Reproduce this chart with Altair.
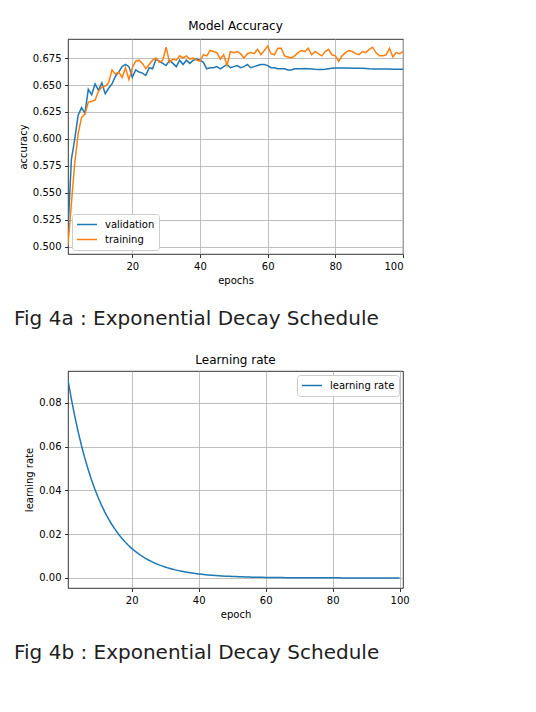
import altair as alt
import pandas as pd

epochs = list(range(1, 101))

val_acc = [
    0.515, 0.581, 0.600, 0.622, 0.629, 0.624, 0.646, 0.641, 0.651, 0.645,
    0.652, 0.642, 0.647, 0.651, 0.658, 0.662, 0.667, 0.669, 0.667, 0.657,
    0.664, 0.662, 0.661, 0.659, 0.666, 0.665, 0.674, 0.672, 0.670, 0.668,
    0.673, 0.670, 0.667, 0.673, 0.669, 0.673, 0.670, 0.673, 0.674, 0.673,
    0.671, 0.665, 0.666, 0.666, 0.667, 0.665, 0.667, 0.669, 0.666, 0.667,
    0.668, 0.666, 0.667, 0.669, 0.666, 0.667, 0.668, 0.669, 0.669, 0.668,
    0.666, 0.666, 0.665, 0.665, 0.665, 0.664, 0.664, 0.665, 0.665, 0.665,
    0.6652, 0.665, 0.6648, 0.6645, 0.6643, 0.6643, 0.6645, 0.665, 0.6655, 0.6657,
    0.6657, 0.6657, 0.6657, 0.6657, 0.6656, 0.6655, 0.6655, 0.6654, 0.6652, 0.665,
    0.6649, 0.6648, 0.6648, 0.6648, 0.6648, 0.6648, 0.6647, 0.6647, 0.6646, 0.6646,
]

train_acc = [
    0.502, 0.540, 0.578, 0.605, 0.620, 0.623, 0.634, 0.635, 0.636, 0.644,
    0.648, 0.649, 0.652, 0.664, 0.660, 0.662, 0.657, 0.666, 0.655, 0.666,
    0.672, 0.673, 0.670, 0.665, 0.669, 0.673, 0.675, 0.671, 0.673, 0.685,
    0.671, 0.674, 0.673, 0.677, 0.675, 0.677, 0.674, 0.675, 0.673, 0.672,
    0.678, 0.677, 0.682, 0.681, 0.680, 0.674, 0.678, 0.668, 0.681, 0.680,
    0.681, 0.679, 0.675, 0.679, 0.680, 0.679, 0.683, 0.678, 0.682, 0.686,
    0.679, 0.678, 0.684, 0.684, 0.677, 0.676, 0.675, 0.677, 0.680, 0.682,
    0.681, 0.684, 0.678, 0.681, 0.679, 0.677, 0.681, 0.683, 0.678, 0.677,
    0.672, 0.677, 0.680, 0.682, 0.681, 0.679, 0.678, 0.681, 0.680, 0.683,
    0.685, 0.680, 0.677, 0.677, 0.678, 0.684, 0.676, 0.680, 0.679, 0.681,
]

lr = [
    0.09048, 0.08187, 0.07408, 0.06703, 0.06065, 0.05488, 0.04966, 0.04493, 0.04066, 0.03679,
    0.03329, 0.03012, 0.02725, 0.02466, 0.02231, 0.02019, 0.01827, 0.01653, 0.01496, 0.01353,
    0.01225, 0.01108, 0.01003, 0.00907, 0.00821, 0.00743, 0.00672, 0.00608, 0.00550, 0.00498,
    0.00450, 0.00408, 0.00369, 0.00334, 0.00302, 0.00273, 0.00247, 0.00224, 0.00202, 0.00183,
    0.00166, 0.00150, 0.00136, 0.00123, 0.00111, 0.00101, 0.00091, 0.00082, 0.00075, 0.00067,
    0.00061, 0.00055, 0.00050, 0.00045, 0.00041, 0.00037, 0.00034, 0.00030, 0.00027, 0.00025,
    0.00022, 0.00020, 0.00018, 0.00017, 0.00015, 0.00014, 0.00012, 0.00011, 0.00010, 0.00009,
    0.00008, 0.00007, 0.00007, 0.00006, 0.00006, 0.00005, 0.00005, 0.00004, 0.00004, 0.00003,
    0.00003, 0.00003, 0.00002, 0.00002, 0.00002, 0.00002, 0.00002, 0.00001, 0.00001, 0.00001,
    0.00001, 0.00001, 0.00001, 0.00001, 0.00001, 0.00001, 0.00001, 0.0, 0.0, 0.0,
]

series_names = ['validation', 'training']
series_colors = ['#1f77b4', '#ff7f0e']
x_ticks = [20, 40, 60, 80, 100]
acc_ticks = [0.500, 0.525, 0.550, 0.575, 0.600, 0.625, 0.650, 0.675]
lr_ticks = [0.00, 0.02, 0.04, 0.06, 0.08]
caption_a = 'Fig 4a : Exponential Decay Schedule'
caption_b = 'Fig 4b : Exponential Decay Schedule'

acc_df = pd.DataFrame({
    'epoch': epochs + epochs,
    'accuracy': val_acc + train_acc,
    'series': ['validation'] * len(val_acc) + ['training'] * len(train_acc),
})
lr_df = pd.DataFrame({'epoch': epochs, 'lr': lr, 'series': 'learning rate'})

# matplotlib-ish legend box
legend_style = dict(
    symbolType='stroke', symbolSize=400, symbolStrokeWidth=1.5, clipHeight=13,
    labelFontSize=10, labelFont='DejaVu Sans', labelColor='black', labelOffset=7,
    fillColor='white', strokeColor='#cccccc', cornerRadius=3, padding=4,
    rowPadding=2, offset=4,
)

acc_lines = alt.Chart(acc_df).mark_line(strokeWidth=1.5, clip=True).encode(
    x=alt.X('epoch:Q', scale=alt.Scale(domain=[1, 100], nice=False, zero=False),
            axis=alt.Axis(values=x_ticks, title='epochs')),
    y=alt.Y('accuracy:Q', scale=alt.Scale(domain=[0.4935, 0.6926], nice=False, zero=False),
            axis=alt.Axis(values=acc_ticks, format='.3f', title='accuracy')),
    color=alt.Color('series:N', sort=series_names,
                    scale=alt.Scale(domain=series_names, range=series_colors),
                    legend=alt.Legend(title=None, orient='bottom-left', **legend_style)),
)

cap_a = alt.Chart(pd.DataFrame({'caption': [caption_a]})).mark_text(
    align='left', baseline='middle', fontSize=20, font='DejaVu Sans', color='#1e1e1e'
).encode(x=alt.value(-54), y=alt.value(280), text='caption:N')

top = alt.layer(acc_lines, cap_a).properties(
    width=335, height=215,
    title=alt.TitleParams('Model Accuracy', fontSize=12, fontWeight='normal',
                          font='DejaVu Sans', color='black', offset=6),
)

lr_line = alt.Chart(lr_df).mark_line(strokeWidth=1.5, clip=True).encode(
    x=alt.X('epoch:Q', scale=alt.Scale(domain=[1, 101], nice=False, zero=False),
            axis=alt.Axis(values=x_ticks, title='epoch')),
    y=alt.Y('lr:Q', scale=alt.Scale(domain=[-0.0046, 0.0946], nice=False, zero=False),
            axis=alt.Axis(values=lr_ticks, format='.2f', title='learning rate')),
    color=alt.Color('series:N',
                    scale=alt.Scale(domain=['learning rate'], range=['#1f77b4']),
                    legend=alt.Legend(title=None, orient='top-right', **legend_style)),
)

cap_b = alt.Chart(pd.DataFrame({'caption': [caption_b]})).mark_text(
    align='left', baseline='middle', fontSize=20, font='DejaVu Sans', color='#1e1e1e'
).encode(x=alt.value(-54), y=alt.value(282), text='caption:N')

bottom = alt.layer(lr_line, cap_b).properties(
    width=335, height=217,
    title=alt.TitleParams('Learning rate', fontSize=12, fontWeight='normal',
                          font='DejaVu Sans', color='black', offset=4),
)

chart = alt.vconcat(top, bottom, spacing=117, bounds='flush').resolve_scale(
    color='independent'
).resolve_legend(
    color='independent'
).properties(
    padding={'left': 5, 'top': 11, 'right': 5, 'bottom': 5},
    background='white',
).configure_view(
    stroke='black', strokeWidth=0.8
).configure_axis(
    grid=True, gridColor='#b0b0b0', gridWidth=0.8,
    domain=False, tickColor='black', tickSize=3.5, tickWidth=0.8,
    labelFont='DejaVu Sans', labelFontSize=10, labelColor='black', labelPadding=3.5,
    titleFont='DejaVu Sans', titleFontSize=10, titleColor='black',
    titleFontWeight='normal', titlePadding=4,
)

chart.save('out.html', embed_options={'renderer': 'svg', 'actions': False})
